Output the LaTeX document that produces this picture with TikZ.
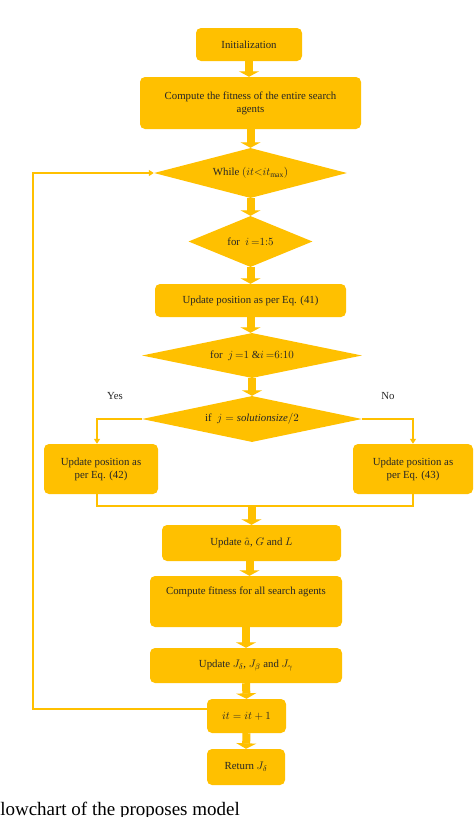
\documentclass[tikz,border=0pt]{standalone}
\usepackage{fontspec}
\setmainfont{Liberation Serif}
\usetikzlibrary{shapes.geometric,arrows.meta}
\definecolor{amber}{HTML}{FFC000}
\tikzset{
  box/.style={fill=amber, rounded corners=5pt, inner sep=2pt, align=center, font=\fontsize{10.8}{13}\selectfont, text=black!85},
  dia/.style={fill=amber, diamond, inner sep=0pt, font=\fontsize{10.8}{13}\selectfont, text=black!85},
  blockarrow/.style={draw=amber, line width=8pt, -{Triangle[width=20pt,length=5.5pt]}},
  thin/.style={draw=amber, line width=1.4pt},
  thinarrow/.style={thin, -{Triangle[width=6pt,length=5pt]}},
  lbl/.style={font=\fontsize{10.8}{13}\selectfont, text=black!85}
}
\begin{document}
\begin{tikzpicture}[x=1pt,y=-1pt]
\fill[white] (0,0) rectangle (474,817);
\useasboundingbox (0,0) rectangle (474,817);

\node[box, minimum width=106pt, minimum height=33pt] (init) at (249,44.5) {Initialization};
\node[box, minimum width=221pt, minimum height=52pt] (comp) at (250.5,103) {Compute the fitness of the entire search\\agents};
\node[dia, aspect=3.86, minimum width=193pt, minimum height=50pt] (while) at (250.5,173) {While $(it{<}it_{\max})$};
\node[dia, aspect=2.43, minimum width=124pt, minimum height=51pt] (fori) at (250.5,241.5) {for\ \ $i\,{=}1{:}5$};
\node[box, minimum width=191pt, minimum height=33pt] (upd41) at (250.5,300.5) {Update position as per Eq. (41)};
\node[dia, aspect=4.89, minimum width=220pt, minimum height=45pt] (forj) at (252,355.5) {for\ \ $j\,{=}1$ \&$i\,{=}6{:}10$};
\node[dia, aspect=4.78, minimum width=220pt, minimum height=46pt] (ifj) at (252,419) {if\ \ $j=\mathit{solutionsize}/2$};
\node[box, minimum width=114pt, minimum height=50pt] (upd42) at (101,469) {Update position as\\per Eq. (42)};
\node[box, minimum width=120pt, minimum height=50pt] (upd43) at (413,469) {Update position as\\per Eq. (43)};
\node[box, minimum width=179pt, minimum height=36pt] (upda) at (251.5,543) {Update $\hat{a}$, $G$ and $L$};
\node[box, minimum width=192pt, minimum height=51pt, text depth=22pt] (compf) at (246,601.5) {Compute fitness for all search agents};
\node[box, minimum width=192pt, minimum height=35pt] (updJ) at (246,665.5) {Update $J_\delta$, $J_\beta$ and $J_\gamma$};
\node[box, minimum width=79pt, minimum height=34pt] (itb) at (246.5,716) {$it=it+1$};
\node[box, minimum width=78pt, minimum height=36pt] (ret) at (246,767) {Return $J_\delta$};

\node[lbl] (yes) at (115,396) {Yes};
\node[lbl] (no) at (388,396) {No};

% block arrows
\draw[blockarrow] (init.south) -- (init.south |- comp.north);
\draw[blockarrow] (comp.south) -- (comp.south |- while.north);
\draw[blockarrow] (while.south) -- (while.south |- fori.north);
\draw[blockarrow] (fori.south) -- (fori.south |- upd41.north);
\draw[blockarrow] (upd41.south) -- (upd41.south |- forj.north);
\draw[blockarrow] (forj.south) -- (forj.south |- ifj.north);
\draw[blockarrow] ([xshift=-2pt]upda.south) -- ([xshift=-2pt]upda.south |- compf.north);
\draw[blockarrow] (compf.south) -- (updJ.north);
\draw[blockarrow] (updJ.south) -- (itb.north);
\draw[blockarrow] (itb.south) -- (ret.north);

% branches
\draw[thinarrow] (ifj.west) -| ([xshift=-4pt]upd42.north);
\draw[thinarrow] (ifj.east) -| (upd43.north);

% merge
\coordinate (mL) at (97,506);
\coordinate (mR) at (413,506);
\coordinate (mC) at (251.5,506);
\draw[thin] ([xshift=-4pt]upd42.south) -- (mL) -- (mR) -- (upd43.south);
\draw[blockarrow] (mC) -- (upda.north);

% loop
\coordinate (lb) at (33,709);
\draw[thinarrow] ([yshift=7pt]itb.west) -- (lb) |- (while.west);

% caption fragment
\node[anchor=base west, inner sep=0pt, font=\fontsize{19}{22}\selectfont] (cap) at (-10.5,815) {Flowchart of the proposes model};
\end{tikzpicture}
\end{document}
